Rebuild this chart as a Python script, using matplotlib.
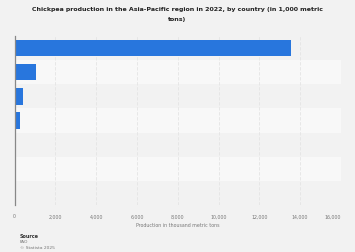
import matplotlib.pyplot as plt

countries = ['India', 'Australia', 'Pakistan', 'Myanmar', 'Iran', 'Bangladesh', 'Nepal']
production = [13540, 1040, 400, 285, 0, 0, 0]
ticks = [0, 2000, 4000, 6000, 8000, 10000, 12000, 14000, 16000]
tick_labels = ['0', '2,000', '4,000', '6,000', '8,000', '10,000', '12,000', '14,000', '16,000']

bg = '#f2f2f2'
fig = plt.figure(figsize=(3.55, 2.53), dpi=100, facecolor=bg)
ax = fig.add_axes([14.5 / 355, 1 - 206 / 253, 326.5 / 355, 169 / 253])
ax.set_facecolor(bg)

n = len(countries)
for i in range(n):
    if i % 2 == 1:
        ax.axhspan(i - 0.5, i + 0.5, color='#f8f8f8', zorder=0, lw=0)

ax.barh(range(n), production, height=0.68, color='#2876dd', zorder=3)
ax.set_ylim(n - 0.5, -0.5)
ax.set_xlim(0, 16000)

ax.set_xticks(ticks)
ax.set_xticklabels(tick_labels, fontsize=3.4, color='#777777')
ax.get_xticklabels()[-1].set_ha('right')
ax.tick_params(axis='x', length=0, pad=6)
ax.set_yticks([])
ax.xaxis.grid(True, color='#e4e4e4', linestyle=(0, (4, 2)), lw=0.6, zorder=1)
ax.set_axisbelow(True)

for s in ['top', 'right', 'bottom']:
    ax.spines[s].set_visible(False)
ax.spines['left'].set_color('#888888')
ax.spines['left'].set_linewidth(0.9)
ax.spines['left'].set_zorder(4)

ax.set_xlabel('Production in thousand metric tons', fontsize=3.4, color='#777777', labelpad=3)

fig.text(0.5, 1 - 9 / 253, 'Chickpea production in the Asia-Pacific region in 2022, by country (in 1,000 metric',
         ha='center', va='center', fontsize=4.5, fontweight='bold', color='#222222')
fig.text(0.5, 1 - 20 / 253, 'tons)', ha='center', va='center', fontsize=4.5, fontweight='bold', color='#222222')

fig.text(20 / 355, 1 - 236 / 253, 'Source', fontsize=3.5, fontweight='bold', color='#333333', va='center')
fig.text(20 / 355, 1 - 242 / 253, 'FAO', fontsize=3.2, color='#777777', va='center')
fig.text(20 / 355, 1 - 248 / 253, '© Statista 2025', fontsize=3.2, color='#777777', va='center')

fig.savefig('out.png', dpi=100, facecolor=bg)
